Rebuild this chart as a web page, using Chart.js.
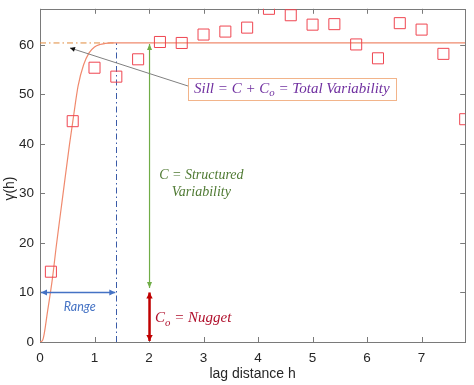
<!DOCTYPE html>
<html><head><meta charset="utf-8">
<script src="https://cdn.jsdelivr.net/npm/chart.js@4/dist/chart.umd.min.js"></script>
<style>html,body{margin:0;padding:0;background:#fff}#wrap{width:474px;height:385px}</style>
</head><body><div id="wrap"><canvas id="c" width="474" height="385"></canvas></div>
<script>
// ---- data ----
const lagH = [0.2,0.6,1.0,1.4,1.8,2.2,2.6,3.0,3.4,3.8,4.2,4.6,5.0,5.4,5.8,6.2,6.6,7.0,7.4,7.8];
const gammaObs = [14.2,44.6,55.4,53.6,57.1,60.6,60.4,62.1,62.7,63.5,67.3,66.0,64.1,64.2,60.1,57.3,64.4,63.1,58.2,45.0];
const modelH = [0,0.05,0.14,0.23,0.3,0.38,0.46,0.54,0.6,0.65,0.7,0.8,0.9,1.0,1.1,1.2,1.3,1.4,7.8];
const modelGamma = [0,0.4,6.3,13.0,19.5,26.3,33.1,39.8,44.4,48.3,51.8,56.0,58.4,59.6,60.1,60.3,60.4,60.4,60.4];
const xTicks = [0,1,2,3,4,5,6,7];
const yTicks = [0,10,20,30,40,50,60];
const sillValue = 60.4, nuggetValue = 10, rangeValue = 1.4, markerH = 2;
const xLabel = 'lag distance h';
const yLabel = 'γ(h)';

const AXIS = '#7a7a7a', TXT = '#262626';
const SERIF = '"Liberation Serif", "DejaVu Serif", serif';

function arrow(ctx, x1, y1, x2, y2, color, lw, hl, hw, both, headColor) {
  ctx.save();
  ctx.strokeStyle = color; ctx.lineWidth = lw; ctx.setLineDash([]);
  ctx.beginPath(); ctx.moveTo(x1, y1); ctx.lineTo(x2, y2); ctx.stroke();
  const head = (xa, ya, xb, yb) => { // tip at xb,yb
    const a = Math.atan2(yb - ya, xb - xa);
    ctx.fillStyle = headColor || color;
    ctx.beginPath();
    ctx.moveTo(xb, yb);
    ctx.lineTo(xb - hl * Math.cos(a) + hw * Math.sin(a), yb - hl * Math.sin(a) - hw * Math.cos(a));
    ctx.lineTo(xb - hl * Math.cos(a) - hw * Math.sin(a), yb - hl * Math.sin(a) + hw * Math.cos(a));
    ctx.closePath(); ctx.fill();
  };
  head(x1, y1, x2, y2);
  if (both) head(x2, y2, x1, y1);
  ctx.restore();
}
function richWidth(ctx, parts, size) {
  let w = 0;
  for (const p of parts) {
    ctx.font = 'italic ' + (p.sub ? size * 0.72 : size) + 'px ' + SERIF;
    w += ctx.measureText(p.t).width;
  }
  return w;
}
function rich(ctx, parts, x, y, size, color, align) {
  const w = richWidth(ctx, parts, size);
  let cx = align === 'center' ? x - w / 2 : x;
  ctx.save(); ctx.fillStyle = color; ctx.textBaseline = 'middle'; ctx.textAlign = 'left';
  for (const p of parts) {
    ctx.font = 'italic ' + (p.sub ? size * 0.72 : size) + 'px ' + SERIF;
    ctx.fillText(p.t, cx, y + (p.sub ? size * 0.3 : 0));
    cx += ctx.measureText(p.t).width;
  }
  ctx.restore();
  return w;
}

const framePlugin = {
  id: 'frame',
  beforeDatasetsDraw(chart) {
    const { ctx, chartArea: a, scales: { x, y } } = chart;
    ctx.save();
    ctx.strokeStyle = AXIS; ctx.lineWidth = 1;
    ctx.strokeRect(Math.round(a.left) + 0.5, Math.round(a.top) + 0.5, Math.round(a.right - a.left), Math.round(a.bottom - a.top));
    const tl = 5;
    ctx.beginPath();
    for (const v of xTicks) {
      const px = Math.round(x.getPixelForValue(v)) + 0.5;
      ctx.moveTo(px, a.bottom); ctx.lineTo(px, a.bottom - tl);
      ctx.moveTo(px, a.top); ctx.lineTo(px, a.top + tl);
    }
    for (const v of yTicks) {
      const py = Math.round(y.getPixelForValue(v)) + 0.5;
      ctx.moveTo(a.left, py); ctx.lineTo(a.left + tl, py);
      ctx.moveTo(a.right, py); ctx.lineTo(a.right - tl, py);
    }
    ctx.stroke();
    // sill dash-dot line
    ctx.strokeStyle = '#E08A3C'; ctx.lineWidth = 1; ctx.setLineDash([6, 3, 1.5, 3]);
    ctx.beginPath();
    ctx.moveTo(x.getPixelForValue(0), y.getPixelForValue(sillValue));
    ctx.lineTo(x.getPixelForValue(rangeValue), y.getPixelForValue(sillValue));
    ctx.stroke();
    // range dash-dot vertical line
    ctx.strokeStyle = '#3A5BA8';
    ctx.beginPath();
    ctx.moveTo(Math.round(x.getPixelForValue(rangeValue)) + 0.5, y.getPixelForValue(0));
    ctx.lineTo(Math.round(x.getPixelForValue(rangeValue)) + 0.5, y.getPixelForValue(sillValue));
    ctx.stroke();
    ctx.restore();
    // y title
    ctx.save();
    ctx.fillStyle = TXT; ctx.font = '14px "Liberation Sans", Arial, sans-serif';
    ctx.translate(10, y.getPixelForValue(31)); ctx.rotate(-Math.PI / 2);
    ctx.textAlign = 'center'; ctx.textBaseline = 'middle';
    ctx.fillText(yLabel, 0, 0);
    ctx.restore();
  },
  afterDatasetsDraw(chart) {
    const { ctx, scales: { x, y } } = chart;
    const X = v => x.getPixelForValue(v), Y = v => y.getPixelForValue(v);
    // range arrow
    arrow(ctx, X(0) + 1, Y(nuggetValue), X(rangeValue) - 1, Y(nuggetValue), '#4472C4', 1.5, 6, 3, true);
    ctx.save(); ctx.fillStyle = '#4472C4'; ctx.font = 'italic 12.5px Lato, "Open Sans", sans-serif';
    ctx.textAlign = 'center'; ctx.textBaseline = 'middle';
    ctx.fillText('Range', X(0.73), Y(7.1)); ctx.restore();
    // structured variability arrow
    arrow(ctx, X(markerH) + 0.5, Y(nuggetValue + 0.9), X(markerH) + 0.5, Y(sillValue) + 1, '#70AD47', 1.2, 6, 2.5, true);
    // nugget arrow
    arrow(ctx, X(markerH) + 0.5, Y(0) - 1, X(markerH) + 0.5, Y(nuggetValue), '#C00000', 2.5, 6, 3.2, true);
    // texts
    rich(ctx, [{ t: 'C = Structured' }], X(2.96), Y(33.6), 14, '#4F7A33', 'center');
    rich(ctx, [{ t: 'Variability' }], X(2.96), Y(30.2), 14, '#4F7A33', 'center');
    rich(ctx, [{ t: 'C' }, { t: 'o', sub: true }, { t: ' = Nugget' }], X(2.11), Y(4.8), 15, '#B0102C', 'left');
    // sill box
    const parts = [{ t: 'Sill = C + C' }, { t: 'o', sub: true }, { t: ' = Total Variability' }];
    const size = 15;
    const w = richWidth(ctx, parts, size);
    const cx = X(4.62), cy = Y(51.1);
    const bx = cx - w / 2 - 6, by = cy - 11, bw = w + 12, bh = 22;
    // pointer arrow
    arrow(ctx, Math.round(bx), cy - 3, X(0.55), Y(59.4), '#808080', 1, 5, 2.5, false, '#111');
    ctx.save(); ctx.fillStyle = '#fff'; ctx.fillRect(bx, by, bw, bh);
    ctx.strokeStyle = '#F2B48A'; ctx.lineWidth = 1;
    ctx.strokeRect(Math.round(bx) + 0.5, Math.round(by) + 0.5, Math.round(bw), Math.round(bh));
    ctx.restore();
    rich(ctx, parts, cx, cy, size, '#7030A0', 'center');
  }
};

new Chart(document.getElementById('c'), {
  type: 'scatter',
  data: {
    datasets: [
      {
        label: 'model',
        data: modelH.map((h, i) => ({ x: h, y: modelGamma[i] })),
        showLine: true, borderColor: '#F08A6E', borderWidth: 1.2,
        pointRadius: 0, cubicInterpolationMode: 'monotone', clip: 0, order: 2
      },
      {
        label: 'experimental',
        data: lagH.map((h, i) => ({ x: h, y: gammaObs[i] })),
        showLine: false, pointStyle: 'rect', pointRadius: 7.8,
        borderColor: '#EF4550', backgroundColor: 'rgba(0,0,0,0)', borderWidth: 1, order: 1
      }
    ]
  },
  options: {
    responsive: false, devicePixelRatio: 1, animation: false,
    layout: { padding: { top: 6, right: 8, left: 0, bottom: 0 } },
    plugins: { legend: { display: false }, tooltip: { enabled: false } },
    scales: {
      x: {
        type: 'linear', min: 0, max: Math.max(...lagH),
        afterBuildTicks: s => { s.ticks = xTicks.map(v => ({ value: v })); },
        afterFit: s => { s.height = 43; s.paddingLeft = 0; s.paddingRight = 0; },
        grid: { display: false, drawTicks: false, tickLength: 0 }, border: { display: false },
        ticks: { color: TXT, font: { family: '"Liberation Sans", Arial, sans-serif', size: 13.5 }, padding: 8, maxRotation: 0 },
        title: { display: true, text: xLabel, color: TXT, font: { family: '"Liberation Sans", Arial, sans-serif', size: 14 }, padding: { top: 0, bottom: 2 } }
      },
      y: {
        type: 'linear', min: 0, max: Math.max(...gammaObs),
        afterBuildTicks: s => { s.ticks = yTicks.map(v => ({ value: v })); },
        afterFit: s => { s.width = 40; s.paddingTop = 0; s.paddingBottom = 0; },
        grid: { display: false, drawTicks: false, tickLength: 0 }, border: { display: false },
        ticks: { color: TXT, font: { family: '"Liberation Sans", Arial, sans-serif', size: 13.5 }, padding: 6 }
      }
    }
  },
  plugins: [framePlugin]
});
</script></body></html>
